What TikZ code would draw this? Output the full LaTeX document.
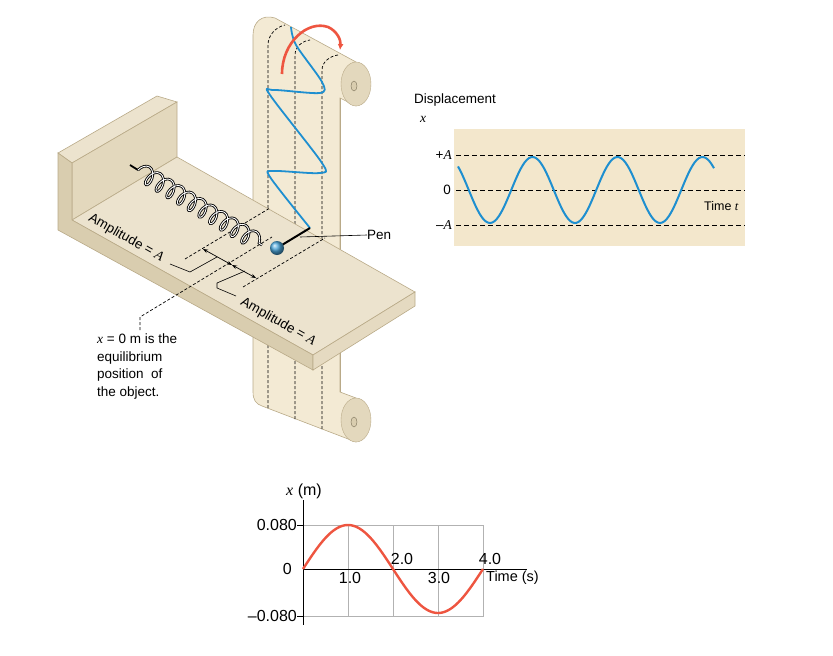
\documentclass[tikz,border=0pt]{standalone}
\usepackage{fontspec}
\setmainfont{Liberation Sans}
\newfontfamily\serifit{Liberation Serif}[ItalicFont=* Italic]
\usetikzlibrary{decorations.pathmorphing,arrows.meta}
\definecolor{stripc}{HTML}{F3EAD4}
\definecolor{edgec}{HTML}{B9AA88}
\definecolor{topc}{HTML}{ECE3CE}
\definecolor{frontc}{HTML}{D9CDAF}
\definecolor{innerc}{HTML}{E3D8BD}
\definecolor{graphbg}{HTML}{F3E7CC}
\definecolor{tracec}{HTML}{1E8FD0}
\definecolor{redc}{HTML}{EE5540}
\newcommand{\mi}[1]{{\serifit\itshape #1}}
\tikzset{
  solid3d/.style={draw=edgec,line width=0.6},
  dash3d/.style={dashed,line width=0.7,dash pattern=on 3pt off 2pt},
  lbl/.style={inner sep=0pt,font=\fontsize{13.5}{15}\selectfont},
  blbl/.style={inner sep=0pt,font=\fontsize{16}{18}\selectfont},
}
\begin{document}
\begin{tikzpicture}[x=1pt,y=-1pt]
\useasboundingbox (0,0) rectangle (833,656);
% ---------- paper strip and rolls
\fill[stripc,solid3d] (253,392) -- (253,35) .. controls (253,22) and (262,14) .. (275,18) -- (356,62) -- (356,106) -- (340,98) -- (340,392) -- (356,398) -- (356,442) -- (262,406) .. controls (256,404) and (253,400) .. (253,392) -- cycle;
\draw[edgec] (340,98) -- (340,392);
\filldraw[fill=innerc,draw=edgec] (356,84) ellipse [x radius=15,y radius=22];
\filldraw[fill=frontc,draw=edgec!70!black] (354,86) ellipse [x radius=3,y radius=5];
\filldraw[fill=innerc,draw=edgec] (356,420) ellipse [x radius=15,y radius=22];
\filldraw[fill=frontc,draw=edgec!70!black] (354,422) ellipse [x radius=3,y radius=5];
\draw[dash3d] (268,408) -- (268,45) .. controls (268,35) and (276,27) .. (285,25);
\draw[dash3d] (295,419) -- (295,55) .. controls (295,47) and (302,41) .. (310,40);
\draw[dash3d] (322,429) -- (322,70) .. controls (322,62) and (330,56) .. (338,55);
% blue trace on strip
\draw[tracec,line width=1.8,line join=round] plot[smooth,tension=0.5] coordinates {(310,228) (270,177) (274,171) (320,173) (322,163) (270,95) (274,90) (320,93) (322,82) (296,45) (291,27)};
% red rotation arrow
\draw[redc,line width=2.6,-{Latex[length=6pt,width=6pt]}] (282,74) .. controls (282,42) and (308,20) .. (328,27) .. controls (337,31) and (341,40) .. (340,50);
% ---------- L-shaped base
\fill[topc,solid3d] (58,153) -- (157,96) -- (177,102) -- (72,163) -- cycle;
\fill[innerc,solid3d] (72,163) -- (177,102) -- (177,157) -- (72,220) -- cycle;
\fill[topc,solid3d] (72,220) -- (177,157) -- (415,292) -- (313,355) -- cycle;
\fill[frontc,solid3d] (58,153) -- (72,163) -- (72,220) -- (313,355) -- (313,370) -- (58,230) -- cycle;
\fill[innerc!80!topc,solid3d] (313,355) -- (415,292) -- (415,306) -- (313,370) -- cycle;
% dashed guide lines on the base
\draw[dash3d] (185,259) -- (270,208);
\draw[dash3d] (140,330) -- (140,317) -- (272,237);
\draw[dash3d] (243,287) -- (325,238);
% spring
\draw[line width=1.8] (130,165) -- (138,170);
\draw[line width=2.6,decorate,decoration={coil,aspect=0.6,amplitude=8.5pt,segment length=12.5pt}] (138,170) -- (262,245);
\draw[white,line width=0.9,decorate,decoration={coil,aspect=0.6,amplitude=8.5pt,segment length=12.5pt}] (138,170) -- (262,245);
% pen
\draw[line width=2] (277,248) -- (310,228);
\node[circle,minimum size=14pt,inner sep=0pt,ball color=tracec!80!white] (ball) at (277,248) {};
\node[lbl,anchor=west] (pen) at (367,235) {Pen};
\draw[line width=0.6] (300,237) -- (pen.west);
% amplitude markers
\draw[{Stealth[length=5pt]}-{Stealth[length=5pt]},line width=0.7] (203,249) -- (232,265);
\draw[{Stealth[length=5pt]}-{Stealth[length=5pt]},line width=0.7] (232,265) -- (256,278);
\node[lbl,rotate=-29.5] (ampa) at (126,238) {Amplitude = \mi{A}};
\node[lbl,rotate=-29.5] (ampb) at (278,322) {Amplitude = \mi{A}};
\draw[line width=0.6] (170,264) -- (190,272) -- (217,257);
\draw[line width=0.6] (236,296) -- (217,288) -- (217,283) -- (245,271);
\node[lbl,anchor=north west,align=left,font=\fontsize{13.5}{17.5}\selectfont] (eq) at (97,334) {\mi{x} = 0 m is the\\equilibrium\\position \ of\\the object.};
% ---------- displacement graph
\fill[graphbg] (454,129) rectangle (745,246);
\foreach \yy in {155,190,225} \draw[dashed,line width=0.7,dash pattern=on 5pt off 3pt] (456,\yy) -- (745,\yy);
\draw[tracec,line width=2] plot[domain=458:714,samples=120] (\x,{190+33*cos(4.2353*(\x-490))});
\node[lbl,anchor=west] (disp) at (414,100) {Displacement};
\node[lbl,anchor=west] (xlab) at (420,119) {\mi{x}};
\node[lbl,anchor=east] (pa) at (452,155) {+\mi{A}};
\node[lbl,anchor=east] (za) at (451,190) {0};
\node[lbl,anchor=east] (ma) at (452,225) {–\mi{A}};
\node[lbl,anchor=west,font=\fontsize{12.5}{14}\selectfont] (tt) at (704,206) {Time \mi{t}};
% ---------- x(t) graph
\draw[gray!60,line width=0.8] (303,525) rectangle (483,616);
\foreach \xx in {348,393,438} \draw[gray!60,line width=0.8] (\xx,525) -- (\xx,616);
\draw[line width=1] (303,500) -- (303,625);
\draw[line width=1] (303,569) -- (527,569);
\draw[line width=1] (297,525) -- (303,525);
\draw[line width=1] (297,616) -- (303,616);
\draw[redc,line width=2.4] plot[domain=0:4,samples=80] ({303+45*\x},{569-44*sin(90*\x)});
\node[blbl,anchor=east] (ya) at (297,525) {0.080};
\node[blbl,anchor=east] (yb) at (292,569) {0};
\node[blbl,anchor=east] (yc) at (297,616) {–0.080};
\node[blbl,anchor=south] (xm) at (304,499) {\mi{x} (m)};
\node[blbl,anchor=north] (t1) at (350,572) {1.0};
\node[blbl,anchor=south] (t2) at (402,565) {2.0};
\node[blbl,anchor=north] (t3) at (439,572) {3.0};
\node[blbl,anchor=south] (t4) at (490,565) {4.0};
\node[blbl,anchor=north west,font=\fontsize{14.5}{16}\selectfont] (ts) at (486,571) {Time (s)};
\end{tikzpicture}
\end{document}
